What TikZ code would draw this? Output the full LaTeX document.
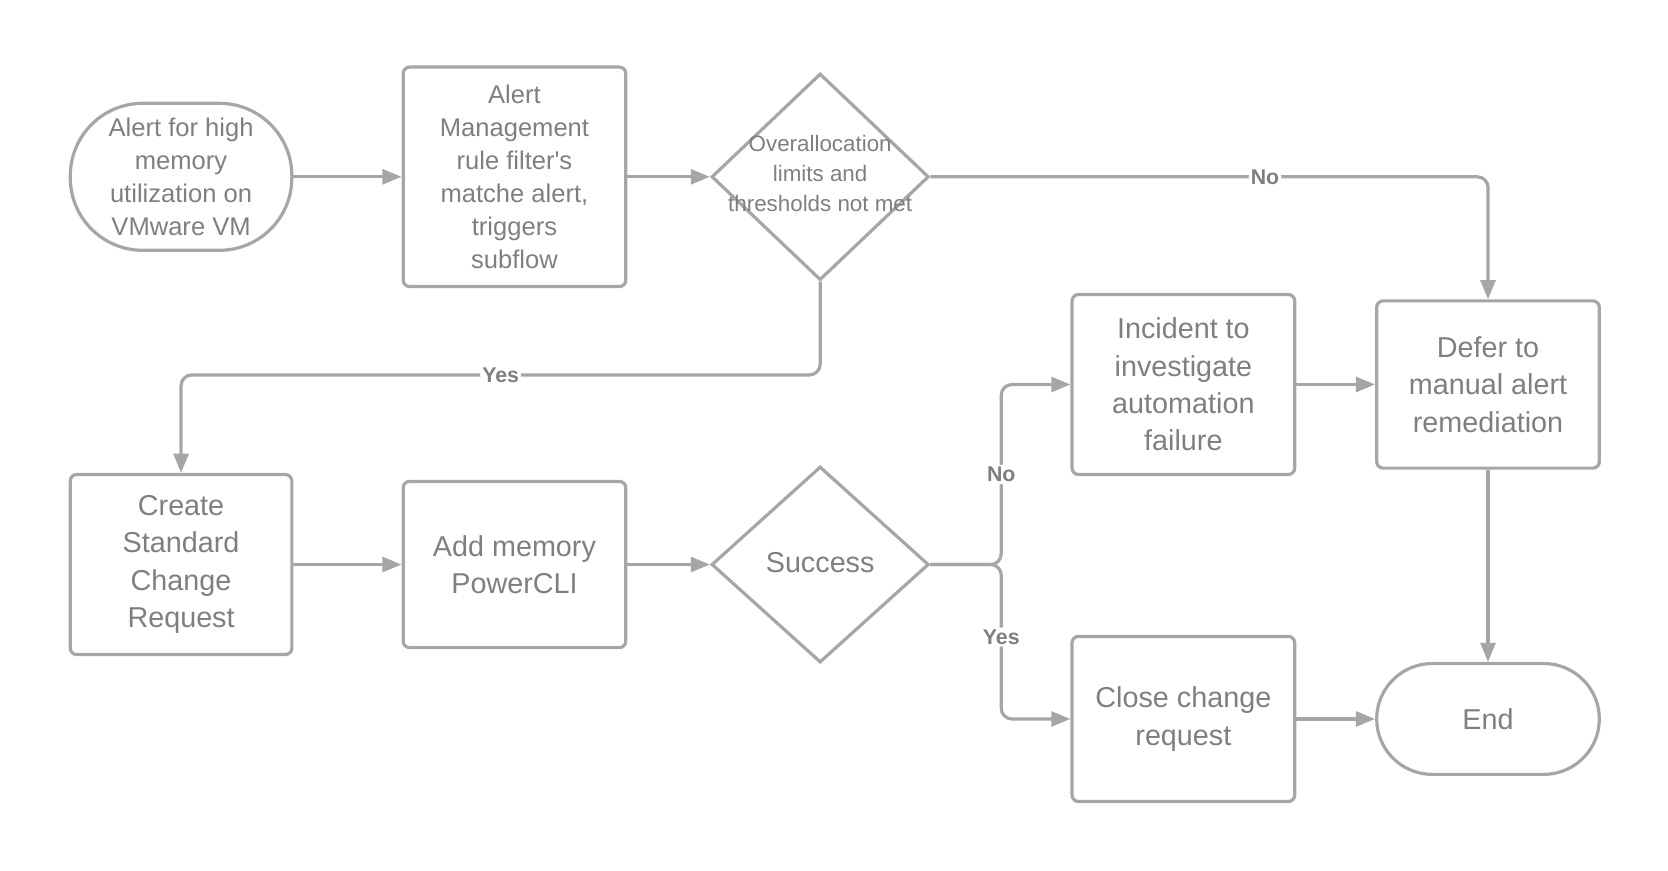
\documentclass[tikz,border=0pt]{standalone}
\usepackage{fontspec}
\setmainfont{Liberation Sans}
\usetikzlibrary{shapes.geometric,arrows.meta}
\definecolor{ln}{HTML}{A6A6A6}
\definecolor{tx}{HTML}{7F7F7F}
\begin{document}
\begin{tikzpicture}[x=0.5pt,y=-0.5pt,
  base/.style={draw=ln,line width=1.5pt,text=tx,align=center,font=\fontsize{12}{15.5}\selectfont,inner sep=0pt},
  box/.style={base,rectangle,rounded corners=3pt},
  term/.style={base,rounded corners=34pt},
  arr/.style={draw=ln,line width=1.5pt,-{Triangle[length=9pt,width=7pt]},rounded corners=5pt},
  lab/.style={fill=white,text=tx,font=\bfseries\fontsize{10}{12}\selectfont,inner sep=1pt}]
\useasboundingbox (0,0) rectangle (1566,817);
\node[term,minimum width=208pt/2,minimum height=138pt/2] (start) at (170,166) {Alert for high\\memory\\utilization on\\VMware VM};
\node[box,minimum width=209pt/2,minimum height=206pt/2] (am) at (483,166) {Alert\\Management\\rule filter\textquotesingle s\\matche alert,\\triggers\\subflow};
\node[base,diamond,minimum width=204pt/2,minimum height=194pt/2] (d1) at (770,166) {};
\node[text=tx,align=center,font=\fontsize{10.5}{14}\selectfont] at (770,163) {Overallocation\\limits and\\thresholds not met};
\node[box,minimum width=209pt/2,minimum height=157pt/2,font=\fontsize{13.5}{17.5}\selectfont] (defer) at (1397,361) {Defer to\\manual alert\\remediation};
\node[box,minimum width=209pt/2,minimum height=169pt/2,font=\fontsize{13.5}{17.5}\selectfont] (inc) at (1111,361) {Incident to\\investigate\\automation\\failure};
\node[box,minimum width=208pt/2,minimum height=169pt/2,font=\fontsize{13.5}{17.5}\selectfont] (cr) at (170,530) {Create\\Standard\\Change\\Request};
\node[box,minimum width=209pt/2,minimum height=156pt/2,font=\fontsize{13.5}{17.5}\selectfont] (add) at (483,530) {Add memory\\PowerCLI};
\node[base,diamond,minimum width=204pt/2,minimum height=184pt/2] (d2) at (770,530) {};
\node[text=tx,font=\fontsize{13.5}{17.5}\selectfont] at (770,528) {Success};
\node[box,minimum width=209pt/2,minimum height=155pt/2,font=\fontsize{13.5}{17.5}\selectfont] (close) at (1111,675) {Close change\\request};
\node[term,minimum width=209pt/2,minimum height=104pt/2,rounded corners=26pt,font=\fontsize{13.5}{17.5}\selectfont] (end) at (1397,675) {End};
\draw[arr] (start) -- (am);
\draw[arr] (am) -- (d1);
\draw[arr] (d1.east) -- (1397,166) node[lab,pos=0.6] {No} -- (defer.north);
\draw[arr] (d1.south) -- (770,352) -- (170,352) node[lab,pos=0.5] {Yes} -- (cr.north);
\draw[arr] (cr) -- (add);
\draw[arr] (add) -- (d2);
\draw[arr] (d2.east) -- (940,530) -- (940,361) node[lab,pos=0.5] {No} -- (inc.west);
\draw[arr] (d2.east) -- (940,530) -- (940,675) node[lab,pos=0.47] {Yes} -- (close.west);
\draw[arr] (inc) -- (defer);
\draw[arr] (defer) -- (end);
\draw[arr] (close) -- (end);
\end{tikzpicture}
\end{document}
